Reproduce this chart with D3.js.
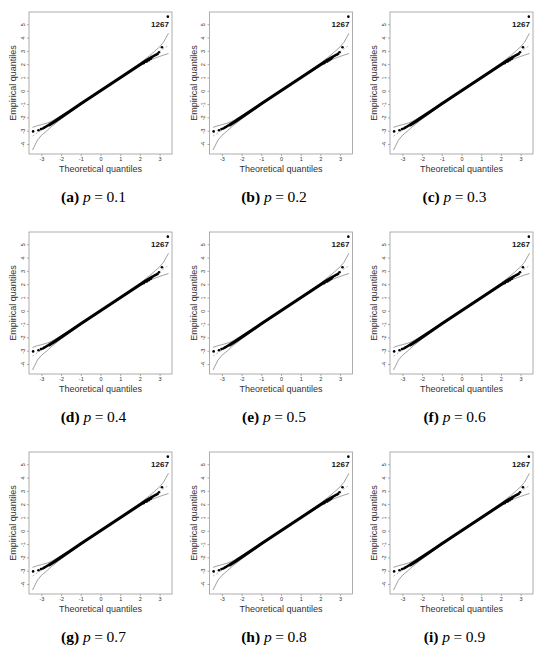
<!DOCTYPE html>
<html><head><meta charset="utf-8">
<script src="https://cdn.jsdelivr.net/npm/d3@7"></script>
<style>body{margin:0;background:#fff}svg{display:block}</style>
</head><body><svg id="c" width="550" height="658"></svg>
<script>
// ---- data ----
const panelLetters = ["a","b","c","d","e","f","g","h","i"];
const panelP = ["0.1","0.2","0.3","0.4","0.5","0.6","0.7","0.8","0.9"];
const xTicks = [-3,-2,-1,0,1,2,3];
const yTicks = [-4,-3,-2,-1,0,1,2,3,4,5];
// dense central band of overlapping points (theoretical, empirical)
const bandTheo = [-2.6,-2.3,-2.0,-1.5,-1.0,-0.5,0,0.5,1.0,1.5,2.0,2.3,2.6];
const bandEmp  = [-2.56,-2.28,-1.98,-1.48,-0.98,-0.49,0,0.49,0.98,1.47,1.96,2.25,2.52];
// sparse tail points
const tailTheo = [-3.42,-3.15,-3.02,-2.93,-2.86,-2.8,-2.74,-2.68,2.2,2.35,2.45,2.55,2.66,2.72,2.78,2.84,2.9,2.97,3.12,3.42];
const tailEmp  = [-3.05,-2.96,-2.88,-2.83,-2.77,-2.72,-2.66,-2.61,2.08,2.2,2.3,2.4,2.58,2.63,2.68,2.72,2.77,2.9,3.27,5.57];
const outlierLabel = "1267";
// confidence envelope
const envTheo  = [-3.45,-3.2,-3.0,-2.7,-2.5,-2.0,-1.0,0,1.0,2.0,2.5,3.0,3.2,3.45];
const envUpper = [-2.75,-2.62,-2.55,-2.42,-2.3,-1.88,-0.93,0.03,1.03,2.07,2.65,3.3,3.65,4.32];
const envLower = [-4.45,-3.7,-3.35,-2.98,-2.7,-2.12,-1.05,-0.03,0.95,1.9,2.3,2.58,2.68,2.8];
// reference line
const refTheo = [-3.45, 3.45];
const refEmp  = [-3.4, 3.4];

// ---- layout ----
const colX = [29, 209.5, 390];
const rowY = [12, 232, 452];
const W = 143, H = 142;

const svg = d3.select("#c");
const x = d3.scaleLinear().domain([-3.63, 3.63]).range([0, W]);
const y = d3.scaleLinear().domain([-4.75, 5.92]).range([H, 0]);
const line = d3.line().x(d => x(d[0])).y(d => y(d[1]));
const zip = (a, b) => a.map((v, i) => [v, b[i]]);
const fmt = v => (v < 0 ? "-" : "") + Math.abs(v);

panelLetters.forEach((letter, k) => {
  const g = svg.append("g").attr("transform", `translate(${colX[k%3]},${rowY[Math.floor(k/3)]})`);

  // axes
  const xa = g.append("g").attr("transform", `translate(0,${H})`)
    .call(d3.axisBottom(x).tickValues(xTicks).tickSize(2).tickPadding(1.5).tickFormat(fmt));
  const ya = g.append("g")
    .call(d3.axisLeft(y).tickValues(yTicks).tickSize(2).tickPadding(1.5).tickFormat(fmt));
  [xa, ya].forEach(a => {
    a.select(".domain").remove();
    a.selectAll("line").attr("stroke", "#888").attr("stroke-width", 0.7);
    a.selectAll("text").attr("font-family", "Liberation Sans, Arial, sans-serif")
      .attr("font-size", 5.5).attr("fill", "#333");
  });
  ya.selectAll("text").attr("text-anchor", "middle").attr("dy", null)
    .attr("x", 0).attr("y", 0).attr("transform", "translate(-4.5,0) rotate(-90)");

  // box
  g.append("rect").attr("width", W).attr("height", H)
    .attr("fill", "none").attr("stroke", "#999").attr("stroke-width", 0.8);

  // envelope and reference line
  g.append("path").datum(zip(envTheo, envUpper)).attr("d", line)
    .attr("fill", "none").attr("stroke", "#777").attr("stroke-width", 0.7);
  g.append("path").datum(zip(envTheo, envLower)).attr("d", line)
    .attr("fill", "none").attr("stroke", "#777").attr("stroke-width", 0.7);
  g.append("path").datum(zip(refTheo, refEmp)).attr("d", line)
    .attr("fill", "none").attr("stroke", "#999").attr("stroke-width", 0.7)
    .attr("stroke-dasharray", "2,2");

  // dense band of points
  g.append("path").datum(zip(bandTheo, bandEmp)).attr("d", line)
    .attr("fill", "none").attr("stroke", "#000").attr("stroke-width", 3.1)
    .attr("stroke-linecap", "round").attr("stroke-linejoin", "round");
  // tail points
  g.selectAll("circle.pt").data(zip(tailTheo, tailEmp)).enter().append("circle")
    .attr("cx", d => x(d[0])).attr("cy", d => y(d[1])).attr("r", 1.3).attr("fill", "#000");

  // outlier label
  const last = tailTheo.length - 1;
  g.append("text").attr("x", x(tailTheo[last]) + 1).attr("y", y(tailEmp[last]) + 10.5)
    .attr("text-anchor", "end").attr("font-family", "Liberation Sans, Arial, sans-serif")
    .attr("font-weight", "bold").attr("font-size", 8).attr("fill", "#111").text(outlierLabel);

  // axis titles
  g.append("text").attr("x", W/2).attr("y", H + 17.5).attr("text-anchor", "middle")
    .attr("font-family", "Liberation Sans, Arial, sans-serif").attr("font-size", 9).attr("fill", "#333")
    .text("Theoretical quantiles");
  g.append("text").attr("transform", `translate(-13,${H/2}) rotate(-90)`).attr("text-anchor", "middle")
    .attr("font-family", "Liberation Sans, Arial, sans-serif").attr("font-size", 9).attr("fill", "#333")
    .text("Empirical quantiles");

  // caption
  const cap = g.append("text").attr("x", W/2 - 7).attr("y", 190).attr("text-anchor", "middle")
    .attr("font-family", "Liberation Serif, serif").attr("font-size", 15.5).attr("fill", "#000");
  cap.append("tspan").attr("font-weight", "bold").text(`(${letter})`);
  cap.append("tspan").text(" ");
  cap.append("tspan").attr("font-style", "italic").text("p");
  cap.append("tspan").attr("dx", 3.5).text("=");
  cap.append("tspan").attr("dx", 3.5).text(panelP[k]);
});
</script></body></html>
